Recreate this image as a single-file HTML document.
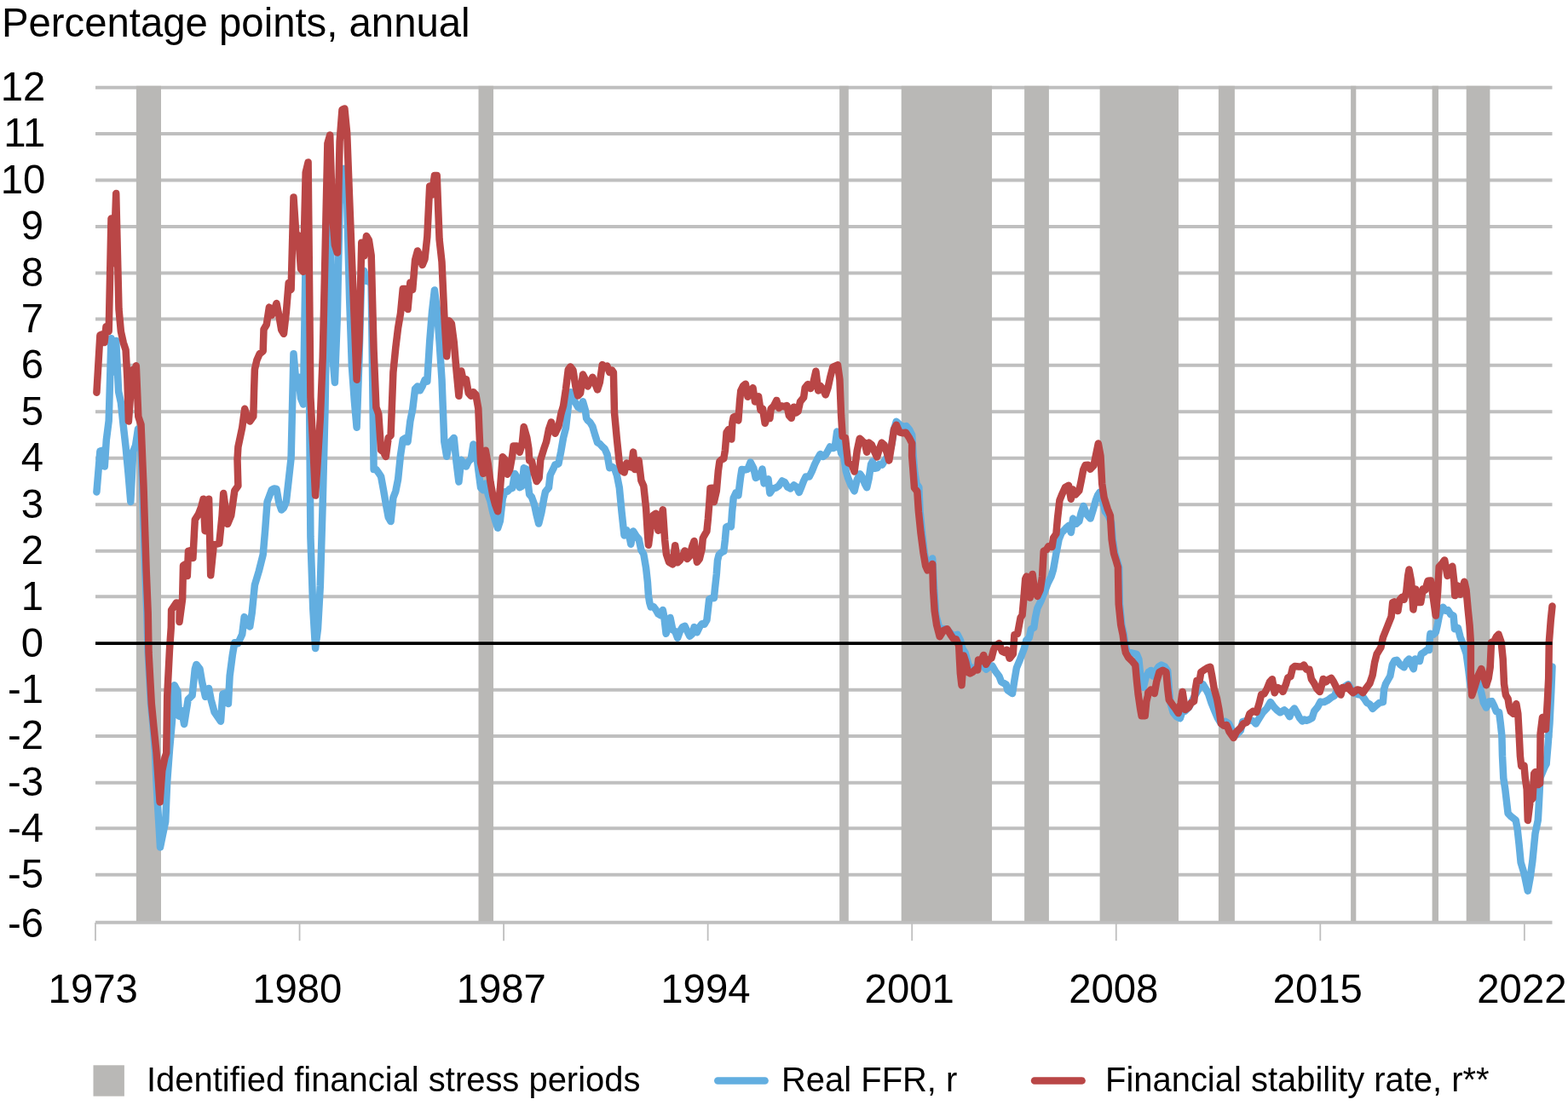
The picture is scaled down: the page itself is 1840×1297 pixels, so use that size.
<!DOCTYPE html>
<html lang="en"><head><meta charset="utf-8"><title>Real FFR and financial stability rate</title>
<style>
html,body{margin:0;padding:0;background:#fff;}
body{width:1840px;height:1297px;overflow:hidden;}
svg{display:block;}
text{font-family:"Liberation Sans",Arial,Helvetica,sans-serif;fill:#000;}
.ax{font-size:47.3px;}
.lg{font-size:39.95px;}
</style></head><body>
<svg width="1840" height="1297" viewBox="0 0 1840 1297">
<rect width="1840" height="1297" fill="#fff"/>

<g stroke="#bfbfbf" stroke-width="4">
<line x1="112.0" x2="1821.5" y1="102.80" y2="102.80"/>
<line x1="112.0" x2="1821.5" y1="157.00" y2="157.00"/>
<line x1="112.0" x2="1821.5" y1="211.60" y2="211.60"/>
<line x1="112.0" x2="1821.5" y1="266.00" y2="266.00"/>
<line x1="112.0" x2="1821.5" y1="320.60" y2="320.60"/>
<line x1="112.0" x2="1821.5" y1="374.40" y2="374.40"/>
<line x1="112.0" x2="1821.5" y1="428.85" y2="428.85"/>
<line x1="112.0" x2="1821.5" y1="483.30" y2="483.30"/>
<line x1="112.0" x2="1821.5" y1="537.70" y2="537.70"/>
<line x1="112.0" x2="1821.5" y1="592.20" y2="592.20"/>
<line x1="112.0" x2="1821.5" y1="646.85" y2="646.85"/>
<line x1="112.0" x2="1821.5" y1="700.35" y2="700.35"/>
<line x1="112.0" x2="1821.5" y1="809.65" y2="809.65"/>
<line x1="112.0" x2="1821.5" y1="864.00" y2="864.00"/>
<line x1="112.0" x2="1821.5" y1="918.70" y2="918.70"/>
<line x1="112.0" x2="1821.5" y1="972.20" y2="972.20"/>
<line x1="112.0" x2="1821.5" y1="1026.80" y2="1026.80"/>
<line x1="112.0" x2="1821.5" y1="1082.85" y2="1082.85"/>
</g>
<g stroke="#bfbfbf" stroke-width="1.8">
<line x1="112.00" x2="112.00" y1="1083" y2="1104.2"/>
<line x1="351.55" x2="351.55" y1="1083" y2="1104.2"/>
<line x1="591.10" x2="591.10" y1="1083" y2="1104.2"/>
<line x1="830.65" x2="830.65" y1="1083" y2="1104.2"/>
<line x1="1070.20" x2="1070.20" y1="1083" y2="1104.2"/>
<line x1="1309.75" x2="1309.75" y1="1083" y2="1104.2"/>
<line x1="1549.30" x2="1549.30" y1="1083" y2="1104.2"/>
<line x1="1788.85" x2="1788.85" y1="1083" y2="1104.2"/>
</g>
<g fill="#b9b8b6">
<rect x="159.9" y="100.8" width="29.1" height="980.3"/>
<rect x="561.5" y="100.8" width="17.5" height="980.3"/>
<rect x="985.1" y="100.8" width="10.7" height="980.3"/>
<rect x="1057.7" y="100.8" width="106.3" height="980.3"/>
<rect x="1202.1" y="100.8" width="28.8" height="980.3"/>
<rect x="1290.6" y="100.8" width="92.4" height="980.3"/>
<rect x="1429.9" y="100.8" width="19.0" height="980.3"/>
<rect x="1585.1" y="100.8" width="6.2" height="980.3"/>
<rect x="1680.6" y="100.8" width="7.4" height="980.3"/>
<rect x="1720.7" y="100.8" width="27.7" height="980.3"/>
</g>
<polyline fill="none" stroke="#62aee0" stroke-width="8.5" stroke-linejoin="round" stroke-linecap="round" points="113.4,577.5 117.4,529.6 119.9,528.8 122.8,547.5 124.8,516.5 127.7,493.7 130.5,397.2 133.4,436.6 136.2,399.9 139.1,459.5 141.9,472.5 144.8,500.2 147.6,524.7 150.5,555.7 153.3,588.9 156.3,529.6 159.0,523.1 162.0,503.5 164.7,511.6 166.0,540.0 167.2,571.0 168.8,621.5 170.4,670.4 172.4,719.4 173.7,765.7 177.0,826.0 179.7,853.7 182.0,883.1 183.4,915.7 184.8,941.5 186.7,972.0 188.0,994.5 190.8,980.7 194.2,964.4 196.2,917.1 199.0,879.8 201.9,847.2 204.7,804.3 208.4,811.3 210.1,840.7 213.3,834.1 216.1,850.0 220.7,821.1 225.6,816.2 228.8,785.2 230.4,780.0 234.5,785.2 237.0,799.9 241.0,817.8 245.1,808.0 247.6,821.1 251.6,835.8 259.0,846.7 261.4,814.6 266.3,812.9 267.9,826.0 269.6,793.4 272.8,768.9 275.3,754.2 279.4,755.1 284.2,744.5 286.7,724.1 290.0,733.0 293.2,735.5 295.7,719.4 298.9,686.7 303.8,670.4 308.7,650.9 311.2,621.5 313.6,588.9 318.8,575.0 321.6,573.4 324.5,574.0 327.3,590.0 330.2,598.5 333.0,596.0 335.9,588.7 338.7,563.7 341.6,537.6 344.5,415.2 347.3,447.8 350.2,442.4 353.0,467.4 355.9,474.5 358.7,300.0 361.6,290.0 364.4,630.0 367.3,715.0 370.1,761.0 373.0,738.0 375.8,688.0 378.7,590.0 381.5,480.0 384.4,300.0 387.2,215.0 390.1,415.0 392.9,448.9 395.8,372.0 398.6,240.0 401.5,198.0 404.4,198.0 407.2,235.0 410.1,350.0 412.9,430.0 415.8,470.0 418.6,501.7 421.5,420.0 424.3,320.0 427.2,318.0 430.0,330.0 432.9,326.0 435.7,335.0 438.6,551.0 441.4,551.0 444.3,555.0 447.1,559.3 450.0,575.0 452.8,591.4 455.7,607.0 458.6,612.0 461.4,584.3 464.3,576.7 467.1,562.6 470.0,534.3 472.8,515.9 475.7,514.2 478.5,518.6 481.4,494.1 484.2,480.4 487.1,456.5 490.0,453.4 492.8,458.3 495.6,453.4 498.5,446.0 501.3,447.7 504.2,401.0 507.0,366.1 509.9,340.5 512.7,361.2 515.6,401.2 518.5,445.2 521.3,518.6 524.2,535.7 527.0,520.2 529.9,517.0 532.7,514.0 535.6,543.1 538.4,565.6 541.3,539.8 544.1,544.7 547.0,547.6 549.8,541.4 552.7,539.0 555.5,521.5 558.4,526.7 561.3,551.2 564.1,572.4 567.0,575.3 569.8,567.5 572.7,580.3 575.5,588.5 578.4,601.5 581.2,611.3 584.1,619.8 586.9,611.3 589.8,585.2 592.6,577.1 595.5,576.7 598.3,573.8 601.2,573.0 604.1,555.9 606.9,560.8 609.8,572.2 612.6,570.5 614.7,549.3 618.3,551.0 619.6,567.3 621.2,580.3 624.0,583.6 626.9,591.7 629.7,604.8 632.2,614.6 635.4,601.5 638.3,585.2 640.0,577.1 644.0,572.2 645.7,557.5 649.7,549.3 651.4,545.3 655.4,544.5 658.3,529.8 661.1,513.7 664.0,502.3 666.8,477.8 668.5,461.5 669.7,460.2 672.5,466.4 675.4,472.9 678.2,477.8 681.1,479.8 684.0,471.3 686.8,481.1 688.1,490.9 689.7,493.3 692.5,495.8 695.4,500.7 698.2,510.4 701.1,519.4 703.9,521.0 706.8,524.3 709.6,526.7 712.5,533.3 715.3,549.2 718.2,547.9 721.0,549.6 723.9,557.7 726.8,572.4 729.6,601.5 732.5,628.4 735.3,622.2 738.2,627.6 740.3,638.7 743.1,623.5 746.7,629.2 749.6,632.5 752.4,645.6 755.3,650.4 758.1,666.7 759.9,683.1 761.0,699.4 762.3,707.5 763.8,712.4 766.7,711.9 769.6,715.7 772.4,720.6 775.3,722.2 777.8,716.0 779.2,723.1 781.6,743.8 784.1,736.1 786.5,725.0 789.4,739.4 792.2,741.0 795.1,748.8 797.9,741.0 800.8,736.1 803.6,734.8 806.5,741.0 809.3,746.7 812.2,744.2 814.6,736.1 817.9,742.3 820.8,736.1 823.6,732.3 826.5,732.8 829.4,727.9 830.9,714.9 832.2,703.5 835.1,702.2 837.9,701.9 839.0,690.4 840.8,674.1 842.0,657.8 843.6,651.3 846.5,648.4 849.3,647.2 850.9,633.4 852.2,618.7 855.0,617.4 857.9,618.2 859.1,600.8 860.7,584.5 863.6,578.3 866.4,581.5 868.0,568.2 868.9,561.2 870.5,550.9 874.6,551.4 877.5,550.6 880.6,542.5 884.4,549.8 886.8,560.9 889.2,559.6 891.7,558.8 894.5,550.6 896.6,567.4 899.0,562.8 901.5,562.3 903.4,578.8 907.2,573.4 910.4,572.6 914.0,570.2 917.8,564.5 921.0,566.1 924.3,571.8 927.6,573.4 931.6,569.4 934.9,571.8 937.7,578.0 940.6,571.0 943.1,564.5 945.5,559.6 949.6,559.6 952.8,553.1 956.1,544.9 959.4,538.4 962.6,533.0 965.9,535.9 969.1,533.5 974.0,524.5 977.3,526.1 979.7,525.3 982.2,506.6 984.6,520.4 987.1,531.9 990.3,536.7 992.8,553.1 995.2,561.2 998.5,569.4 1002.6,576.4 1005.8,562.8 1009.1,556.3 1011.5,559.6 1014.8,567.7 1017.2,572.3 1019.7,561.2 1022.1,544.9 1023.8,541.6 1026.2,549.8 1029.5,549.0 1031.9,544.9 1035.2,545.7 1037.6,541.6 1040.9,536.7 1043.3,533.5 1046.6,520.4 1049.0,504.1 1051.8,494.7 1055.6,498.4 1059.6,500.9 1063.7,500.1 1067.0,504.1 1070.2,510.7 1071.7,535.2 1073.4,554.8 1075.5,567.8 1078.3,571.9 1079.6,600.4 1082.0,624.9 1084.8,649.4 1087.7,664.0 1091.0,665.7 1094.2,655.4 1096.2,692.6 1098.3,722.0 1102.7,738.3 1107.3,737.9 1111.4,739.1 1118.7,746.4 1123.6,744.8 1126.9,751.3 1129.3,761.1 1132.6,766.0 1136.6,780.7 1139.9,784.2 1144.8,785.6 1148.0,777.4 1151.3,780.7 1154.2,782.3 1157.3,785.6 1161.1,782.3 1164.4,781.5 1167.6,787.2 1172.5,793.7 1175.0,800.2 1180.7,803.5 1182.3,810.0 1188.0,814.1 1190.4,798.6 1192.9,783.9 1197.0,774.1 1201.9,761.1 1204.3,751.6 1207.6,748.9 1210.0,738.3 1213.3,736.6 1214.9,725.2 1217.3,713.8 1221.4,705.7 1224.7,697.5 1229.6,684.5 1233.7,676.3 1236.1,668.2 1239.4,649.4 1242.6,633.1 1245.9,624.9 1247.5,623.6 1250.8,620.0 1254.0,617.1 1256.8,624.9 1259.2,608.6 1263.0,614.8 1266.3,611.9 1268.7,602.1 1271.5,593.9 1275.2,603.7 1279.6,608.6 1282.6,598.8 1285.8,587.4 1288.3,580.9 1290.7,577.6 1294.0,587.4 1296.8,600.4 1300.8,605.3 1304.1,613.5 1305.7,633.1 1308.2,649.4 1310.6,657.5 1313.1,665.7 1313.9,708.9 1316.3,733.4 1318.8,744.8 1320.4,757.8 1322.5,764.4 1327.4,766.3 1333.9,767.9 1336.4,774.1 1338.0,790.4 1339.6,798.6 1341.8,806.7 1344.5,795.3 1347.8,788.8 1351.0,787.5 1350.6,786.9 1353.0,793.6 1356.3,787.4 1359.6,782.5 1362.8,780.5 1366.9,782.5 1370.2,787.4 1371.8,808.6 1373.4,824.9 1376.7,836.3 1380.8,841.2 1384.8,843.2 1388.1,833.1 1390.5,834.7 1395.4,829.8 1402.0,816.7 1408.5,805.3 1411.7,803.2 1415.0,808.6 1418.3,815.1 1421.5,824.9 1424.8,833.1 1428.9,842.8 1432.9,849.4 1437.8,846.9 1441.9,849.4 1446.0,857.5 1450.9,862.4 1455.8,857.5 1458.2,847.2 1462.3,846.1 1466.4,845.3 1470.4,846.1 1473.7,849.4 1477.8,842.8 1481.9,836.3 1486.7,831.4 1490.8,824.1 1494.9,829.8 1499.0,833.9 1502.2,836.3 1507.1,833.4 1510.4,836.3 1513.3,841.2 1516.1,834.7 1518.9,831.4 1521.8,836.3 1525.1,842.8 1528.3,846.6 1530.8,844.5 1533.2,845.8 1536.5,844.5 1539.7,842.8 1542.2,834.7 1546.3,829.8 1549.5,823.6 1553.6,824.1 1558.5,821.6 1562.6,818.4 1565.8,816.7 1568.3,811.9 1571.5,810.2 1575.6,808.6 1578.9,805.3 1582.1,803.2 1585.4,808.6 1589.5,813.5 1593.5,815.1 1597.6,815.9 1600.9,820.0 1604.1,824.9 1607.4,826.5 1610.7,831.9 1614.7,828.2 1618.8,824.9 1622.9,824.1 1624.1,809.1 1626.1,802.6 1631.3,793.5 1633.9,780.0 1636.5,775.4 1639.1,774.8 1643.0,780.0 1647.6,783.3 1650.9,776.1 1653.5,773.5 1656.1,780.0 1658.7,785.2 1660.6,773.5 1663.9,774.8 1665.9,776.1 1667.8,767.6 1671.1,765.6 1674.3,763.0 1677.0,763.0 1678.0,747.4 1678.5,743.7 1682.2,744.8 1684.8,742.2 1686.7,734.3 1688.7,723.9 1691.3,714.8 1693.3,712.8 1696.5,716.7 1699.1,716.1 1702.4,721.3 1705.6,722.6 1707.0,738.3 1710.9,737.0 1713.5,747.4 1717.4,757.8 1720.6,767.0 1723.3,786.5 1725.2,802.6 1727.2,813.0 1730.4,805.2 1733.0,800.0 1735.6,802.6 1738.3,813.0 1740.9,824.8 1744.1,830.6 1747.4,823.5 1750.6,823.1 1753.3,828.7 1755.9,835.2 1759.1,835.9 1760.7,848.3 1762.4,863.9 1763.0,887.4 1764.3,913.4 1766.3,926.5 1769.6,954.8 1773.5,958.7 1778.7,962.6 1780.6,973.0 1782.6,991.3 1784.6,1012.2 1788.5,1025.2 1792.8,1045.7 1795.6,1030.4 1798.3,1010.9 1801.5,978.3 1804.8,962.6 1806.1,939.1 1807.4,913.0 1812.6,900.4 1814.6,896.8 1816.5,874.3 1818.5,848.3 1820.4,809.1 1821.5,782.4"/>
<polyline fill="none" stroke="#b94646" stroke-width="8.5" stroke-linejoin="round" stroke-linecap="round" points="113.4,460.8 117.4,393.4 119.9,392.3 122.5,402.1 124.5,383.2 127.7,389.0 130.5,256.6 133.4,308.9 136.2,227.1 138.3,314.1 139.5,363.1 141.9,389.1 144.8,402.2 147.6,410.9 149.4,444.8 150.9,494.5 153.8,454.6 156.3,433.7 157.4,436.6 159.8,429.3 162.3,488.8 165.5,498.3 167.2,540.0 168.5,571.0 170.1,621.5 171.7,670.4 173.7,719.4 174.5,765.7 177.8,826.0 180.5,853.7 183.5,883.1 187.6,941.5 190.2,905.0 193.5,889.0 195.2,884.0 196.2,817.8 199.0,762.4 200.8,736.3 201.1,716.1 206.8,707.6 210.9,707.9 210.5,730.0 214.1,703.1 215.0,663.9 217.4,662.3 219.8,676.1 221.0,646.8 223.9,646.0 226.4,655.0 228.0,624.8 228.8,610.1 232.9,603.6 236.1,595.4 238.6,585.7 240.6,623.2 245.1,585.7 247.2,675.3 250.8,639.5 257.3,637.8 260.6,605.2 262.2,579.1 267.1,615.0 271.2,605.2 275.3,575.9 279.4,570.2 278.5,539.4 279.4,524.7 284.2,501.9 287.2,479.8 290.0,488.8 293.2,494.5 297.3,488.8 298.1,457.8 298.9,433.4 301.4,422.8 304.6,415.4 308.7,412.2 309.5,386.7 312.8,381.0 315.9,360.6 318.8,370.0 321.6,364.0 324.5,356.0 327.3,370.0 330.2,387.0 333.0,391.8 335.9,366.0 338.7,332.0 341.6,340.0 344.5,231.4 347.3,274.3 350.2,276.5 353.0,315.6 355.9,318.9 358.7,202.5 361.6,190.5 364.4,466.0 367.3,523.0 370.1,581.6 373.0,537.0 375.8,491.0 378.7,420.0 381.5,299.0 384.4,168.3 387.2,158.5 390.1,252.6 392.9,287.4 395.8,296.6 398.6,166.0 401.5,128.6 404.4,127.5 407.2,156.3 410.1,233.0 412.9,304.0 415.8,375.0 418.6,445.7 421.5,400.0 424.3,284.7 427.2,300.4 430.0,277.0 432.9,282.0 435.7,300.0 438.6,411.0 441.4,478.0 444.3,486.0 447.1,528.4 450.0,530.5 452.8,536.0 455.7,514.0 458.6,511.0 461.4,437.0 464.3,408.0 467.1,385.0 470.0,368.0 472.8,339.0 475.7,339.0 478.5,363.0 481.4,331.4 484.2,340.0 487.1,305.0 490.0,294.4 492.8,300.9 495.6,311.0 498.5,304.1 501.3,278.0 504.2,218.5 507.0,228.6 509.9,206.0 512.7,206.0 515.6,281.3 518.5,307.4 521.3,369.4 524.2,418.3 527.0,376.4 529.9,380.0 532.7,401.2 535.6,435.4 538.4,464.8 541.3,435.4 544.1,448.5 547.0,445.2 549.8,461.5 552.7,464.8 555.5,460.2 558.4,463.2 561.3,479.5 562.6,510.4 564.1,543.1 567.0,555.8 569.8,528.7 572.7,544.5 575.5,565.7 578.4,582.0 581.2,592.6 584.1,600.2 586.9,573.8 589.8,536.3 592.6,539.6 595.5,556.7 598.3,551.0 601.2,534.7 602.5,523.5 606.9,523.5 609.8,530.8 612.6,521.9 614.7,501.0 618.3,513.7 620.4,526.7 621.2,540.6 624.0,541.4 626.9,556.1 629.7,565.1 632.6,561.0 634.3,539.8 638.3,526.7 641.1,518.6 644.0,503.9 646.9,495.4 649.7,505.6 651.4,508.8 655.4,500.7 658.3,486.0 661.1,476.2 664.0,456.6 666.8,433.8 669.4,430.5 672.5,434.6 675.4,453.4 678.2,464.5 681.1,461.5 684.0,439.5 686.8,445.2 689.7,453.4 692.5,448.5 695.4,442.8 698.2,450.1 701.1,457.4 703.9,448.5 706.8,428.1 709.6,430.5 712.5,429.7 715.3,437.1 718.2,434.6 719.9,437.1 721.0,484.4 723.9,515.3 726.8,543.1 729.6,552.6 732.5,554.6 735.3,543.6 738.2,547.7 741.0,548.5 743.1,530.6 745.2,551.0 746.7,551.0 749.6,540.4 752.4,564.0 755.3,570.5 758.1,596.6 759.9,626.0 761.0,639.8 763.8,617.8 766.7,604.8 769.6,602.7 772.4,622.7 775.3,611.3 777.8,598.3 780.2,634.1 781.9,650.4 785.1,659.8 789.4,662.4 792.2,640.2 795.1,660.3 797.9,657.8 800.8,653.3 803.6,646.4 806.5,655.9 809.3,652.9 812.2,641.5 814.6,635.0 817.9,659.8 820.8,656.2 823.6,644.8 824.8,631.7 826.5,628.5 829.4,623.6 830.9,608.9 832.2,592.6 833.5,573.0 836.3,572.7 837.9,589.0 840.8,576.3 842.8,553.1 844.4,541.6 846.9,539.2 849.3,538.4 850.9,528.6 852.6,507.4 855.0,504.1 857.4,505.0 858.3,515.6 859.4,496.0 860.7,489.5 863.6,488.6 866.4,493.5 868.0,471.5 869.3,458.5 872.1,452.8 874.9,450.7 877.5,465.8 880.3,460.1 883.5,455.2 886.0,471.5 887.6,466.6 890.1,465.3 892.5,481.3 895.0,479.7 897.7,496.8 900.7,487.8 903.4,491.1 904.7,479.7 908.0,476.4 911.3,469.9 914.0,478.9 917.0,476.4 919.7,477.2 923.5,476.1 925.9,487.8 928.7,490.8 931.6,477.7 934.1,484.6 936.5,482.9 939.0,471.5 943.1,466.6 944.7,455.2 947.9,451.1 951.2,456.0 953.7,452.0 957.4,435.7 960.2,458.5 962.6,452.8 965.9,456.9 968.8,463.4 971.6,455.2 974.0,443.8 977.3,430.8 983.0,428.3 985.4,445.4 987.1,487.8 988.7,512.3 992.0,513.9 993.6,528.6 995.2,543.3 999.3,544.9 1002.6,553.5 1005.8,528.6 1008.8,514.7 1011.5,517.2 1014.8,520.4 1017.2,530.7 1019.7,519.6 1022.9,522.1 1026.2,530.2 1029.1,536.4 1031.9,527.0 1034.7,519.6 1037.6,522.1 1040.9,531.9 1043.3,540.5 1046.6,520.4 1049.0,504.1 1051.8,498.8 1055.6,507.4 1058.8,508.2 1062.9,507.7 1067.0,513.9 1070.2,520.4 1070.1,535.2 1071.4,551.5 1073.0,572.7 1076.3,576.8 1077.9,600.4 1080.4,624.9 1083.6,649.4 1086.1,664.0 1088.5,669.4 1091.8,668.1 1094.2,661.9 1095.1,692.6 1096.7,717.1 1099.1,733.4 1102.7,747.2 1107.3,739.9 1111.4,738.3 1115.4,744.8 1118.7,749.7 1122.0,750.5 1125.2,757.8 1126.0,774.1 1126.9,790.4 1128.5,804.3 1130.1,782.3 1130.9,769.6 1133.4,777.4 1135.8,788.8 1138.3,790.4 1141.5,788.8 1144.8,785.6 1147.2,786.4 1148.0,774.5 1151.3,775.8 1154.2,768.9 1157.0,779.8 1160.3,774.1 1163.5,772.5 1166.0,762.7 1168.4,757.8 1172.5,755.1 1175.8,764.4 1179.0,766.0 1181.5,762.7 1184.7,772.8 1188.8,767.6 1190.4,745.1 1194.0,744.0 1197.5,725.2 1199.6,722.0 1201.5,700.8 1203.2,679.6 1204.6,676.6 1207.6,677.9 1208.7,701.6 1211.6,673.9 1214.1,692.6 1217.3,699.9 1220.6,692.6 1223.1,676.3 1224.7,646.9 1227.9,645.3 1230.4,641.2 1234.5,642.0 1236.1,631.4 1239.4,626.5 1241.0,608.6 1243.4,587.4 1246.7,579.2 1250.0,571.9 1254.0,569.8 1256.8,585.8 1258.9,574.4 1262.2,580.5 1266.3,576.0 1268.7,564.6 1271.2,551.5 1273.6,546.1 1276.9,545.8 1279.3,550.7 1283.4,546.6 1285.8,535.2 1288.8,520.5 1291.5,535.2 1293.2,567.8 1295.6,584.1 1299.7,597.2 1302.9,605.3 1304.6,633.1 1307.0,649.4 1309.5,657.5 1311.9,665.7 1312.7,708.9 1315.2,733.4 1317.6,744.8 1319.3,757.8 1320.9,766.0 1324.1,771.7 1329.0,776.6 1332.3,780.7 1333.9,798.6 1335.6,814.9 1338.0,831.2 1339.6,840.2 1343.7,840.2 1345.3,823.1 1347.0,816.5 1347.3,812.7 1350.6,809.4 1354.7,814.0 1357.1,800.4 1360.4,789.0 1364.5,786.7 1368.5,789.0 1370.2,808.6 1371.8,821.6 1375.9,827.3 1379.1,831.4 1382.7,837.1 1385.7,824.9 1387.6,811.9 1390.9,833.1 1394.6,830.6 1397.9,824.9 1401.1,823.3 1402.8,808.6 1404.4,799.1 1407.7,798.8 1409.3,789.0 1412.6,786.6 1416.6,784.1 1420.2,782.8 1422.3,793.9 1424.8,808.6 1428.0,820.0 1430.5,833.1 1432.9,849.4 1436.2,851.8 1439.5,851.0 1442.7,859.1 1447.6,866.0 1450.9,859.1 1455.8,854.2 1459.0,849.4 1463.1,847.7 1466.4,837.9 1470.4,834.7 1474.5,836.0 1477.8,824.9 1480.2,815.1 1483.5,814.3 1486.7,808.6 1490.0,800.4 1492.9,797.2 1495.7,813.2 1499.0,807.0 1503.1,808.6 1505.5,811.9 1508.8,803.7 1511.2,795.6 1514.5,793.9 1516.9,784.1 1519.4,782.0 1524.2,782.5 1527.5,782.5 1530.0,780.5 1533.2,785.8 1536.5,785.8 1538.9,797.2 1542.2,802.1 1545.4,808.6 1548.7,811.9 1551.2,803.7 1552.8,796.9 1556.0,800.4 1558.5,798.0 1562.1,795.9 1565.0,800.4 1568.3,807.0 1570.7,811.9 1573.5,815.6 1575.6,807.0 1578.9,807.8 1582.1,804.8 1584.6,810.2 1587.8,813.2 1592.7,809.4 1596.0,810.2 1599.3,813.2 1602.5,808.6 1607.4,802.1 1610.7,792.3 1613.1,777.6 1615.6,767.8 1620.5,759.7 1622.9,748.3 1627.4,737.0 1632.6,723.9 1634.2,707.2 1636.5,706.3 1639.1,716.1 1640.4,717.1 1642.4,704.3 1645.0,701.1 1647.6,703.7 1650.2,695.2 1652.2,675.7 1653.5,668.5 1656.1,682.2 1658.4,715.4 1661.3,691.6 1663.9,707.0 1667.2,707.0 1669.8,691.3 1672.4,692.6 1675.6,681.8 1678.9,681.5 1680.9,695.2 1684.8,722.6 1687.1,695.2 1688.7,665.2 1691.3,662.6 1695.2,657.4 1698.5,675.9 1701.1,667.8 1704.3,664.8 1706.3,682.2 1707.2,699.1 1710.2,687.4 1713.5,697.8 1715.4,692.6 1718.4,682.7 1720.6,692.6 1722.6,714.8 1724.6,734.3 1725.9,753.9 1725.9,796.1 1727.2,816.3 1730.4,806.5 1734.3,793.5 1738.3,785.0 1741.5,796.1 1744.1,804.2 1746.7,796.1 1748.7,783.0 1750.0,753.9 1753.3,752.6 1755.9,747.4 1758.5,744.5 1761.7,753.9 1763.7,773.5 1765.0,802.6 1766.9,815.7 1769.6,820.2 1770.9,828.7 1772.8,835.2 1776.1,837.8 1779.3,826.1 1781.3,837.8 1782.6,861.3 1783.9,887.4 1785.2,899.1 1788.5,898.5 1789.8,913.5 1791.7,926.5 1792.8,962.9 1795.6,940.4 1798.5,937.2 1800.2,907.8 1801.9,905.9 1805.0,921.1 1807.1,919.6 1807.6,861.3 1810.0,842.0 1813.9,856.1 1815.9,822.2 1817.2,796.1 1817.8,753.9 1819.8,727.8 1821.5,711.5"/>
<line x1="112.0" x2="1821.5" y1="755.10" y2="755.10" stroke="#000" stroke-width="3.8"/>
<text class="ax" x="2" y="43">Percentage points, annual</text>
<g class="ax" text-anchor="end">
<text x="53.3" y="118.2">12</text>
<text x="53.3" y="172.4">11</text>
<text x="53.3" y="227.0">10</text>
<text x="51.0" y="281.4">9</text>
<text x="51.0" y="336.0">8</text>
<text x="51.0" y="389.8">7</text>
<text x="51.0" y="444.2">6</text>
<text x="51.0" y="498.7">5</text>
<text x="51.0" y="553.1">4</text>
<text x="51.0" y="607.6">3</text>
<text x="51.0" y="662.2">2</text>
<text x="51.0" y="715.8">1</text>
<text x="51.0" y="770.5">0</text>
<text x="51.0" y="825.0">-1</text>
<text x="51.0" y="879.4">-2</text>
<text x="51.0" y="934.1">-3</text>
<text x="51.0" y="987.6">-4</text>
<text x="51.0" y="1042.2">-5</text>
<text x="51.0" y="1100.4">-6</text>
</g>
<g class="ax" text-anchor="middle">
<text x="109.2" y="1177">1973</text>
<text x="348.8" y="1177">1980</text>
<text x="588.3" y="1177">1987</text>
<text x="827.9" y="1177">1994</text>
<text x="1067.2" y="1177">2001</text>
<text x="1306.8" y="1177">2008</text>
<text x="1546.3" y="1177">2015</text>
<text x="1785.9" y="1177">2022</text>
</g>
<rect x="109.5" y="1250.3" width="36.4" height="36.4" fill="#b9b8b6"/>
<text class="lg" x="172" y="1281">Identified financial stress periods</text>
<line x1="842.3" x2="897.6" y1="1268.5" y2="1268.5" stroke="#62aee0" stroke-width="8.5" stroke-linecap="round"/>
<text class="lg" x="917" y="1281">Real FFR, r</text>
<line x1="1214" x2="1269.6" y1="1268.5" y2="1268.5" stroke="#b94646" stroke-width="8.5" stroke-linecap="round"/>
<text class="lg" x="1297" y="1281">Financial stability rate, r**</text>
</svg></body></html>
